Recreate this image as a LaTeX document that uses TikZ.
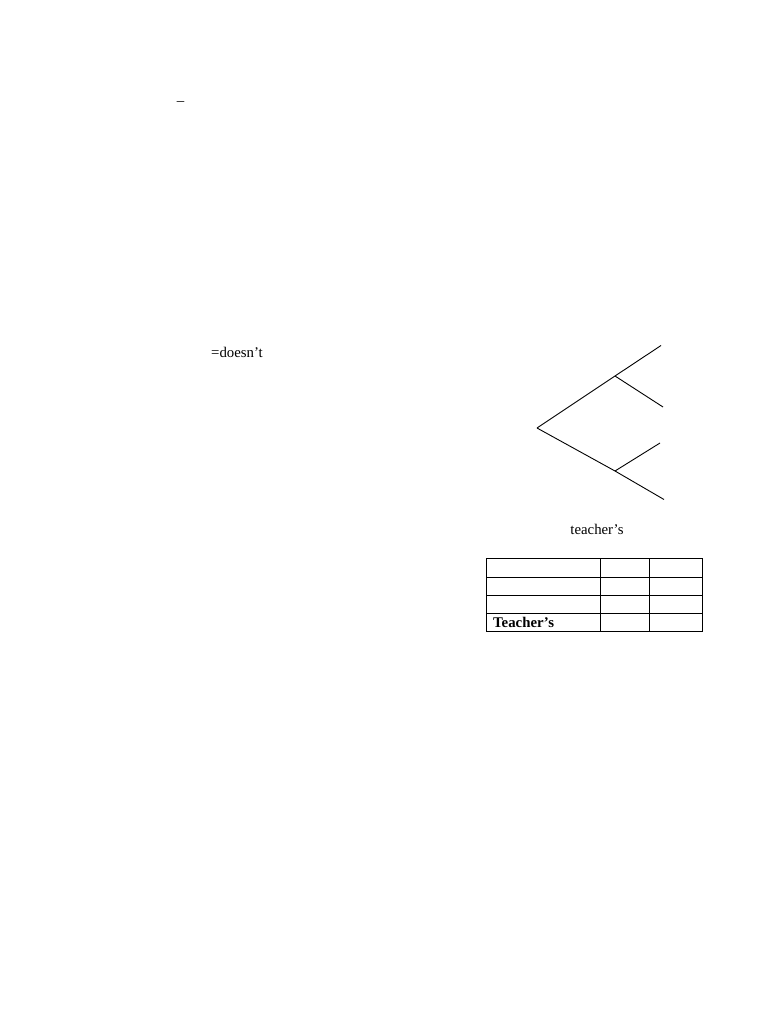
\documentclass[tikz,border=0pt]{standalone}
\usepackage{fontspec}
\setmainfont{Liberation Serif}
\usetikzlibrary{positioning,calc}
\newcommand*{\txt}[1]{\fontsize{14.8}{17}\selectfont #1}

\begin{document}
\begin{tikzpicture}[x=1pt,y=-1pt]
\useasboundingbox (0,0) rectangle (768,1024);
% Loose marks in the text
\node[inner sep=0pt] (dash) at (180.5,103.5) {\txt{–}};
\node[anchor=west,inner sep=0pt] (doesnt) at (211,352) {\txt{=doesn’t}};
\coordinate (root) at (537,428);   % Points of the tree
\coordinate (up) at (615,376);
\coordinate (dn) at (615,471);
\coordinate (upa) at (661,345.5);
\coordinate (upb) at (663,407);
\coordinate (dna) at (660,443);
\coordinate (dnb) at (664,499.5);
% Draw the branches
\draw[line width=0.9pt] (root) -- (up) -- (upa);
\draw[line width=0.9pt] (up) -- (upb);
\draw[line width=0.9pt] (root) -- (dn) -- (dnb);
\draw[line width=0.9pt] (dn) -- (dna);
\node (caption) at (597,529) {\txt{teacher’s}};
% Corners and rules of the table
\coordinate (tl) at (486,558.5);
\coordinate (br) at (702.5,631.5);
\coordinate (ca) at (600.5,558.5);
\coordinate (cb) at (649.5,558.5);
\draw[line width=1pt] (tl) rectangle (br);
\draw[line width=1pt] (ca) -- (ca |- br);
\draw[line width=1pt] (cb) -- (cb |- br);
\draw[line width=1pt] (486,577) -- (702.5,577);
\draw[line width=1pt] (486,595) -- (702.5,595);
\draw[line width=1pt] (486,613.5) -- (702.5,613.5);
\node[anchor=west,inner sep=0pt] (teach) at (493,622) {\txt{\bfseries Teacher’s}};
\end{tikzpicture}
\end{document}
